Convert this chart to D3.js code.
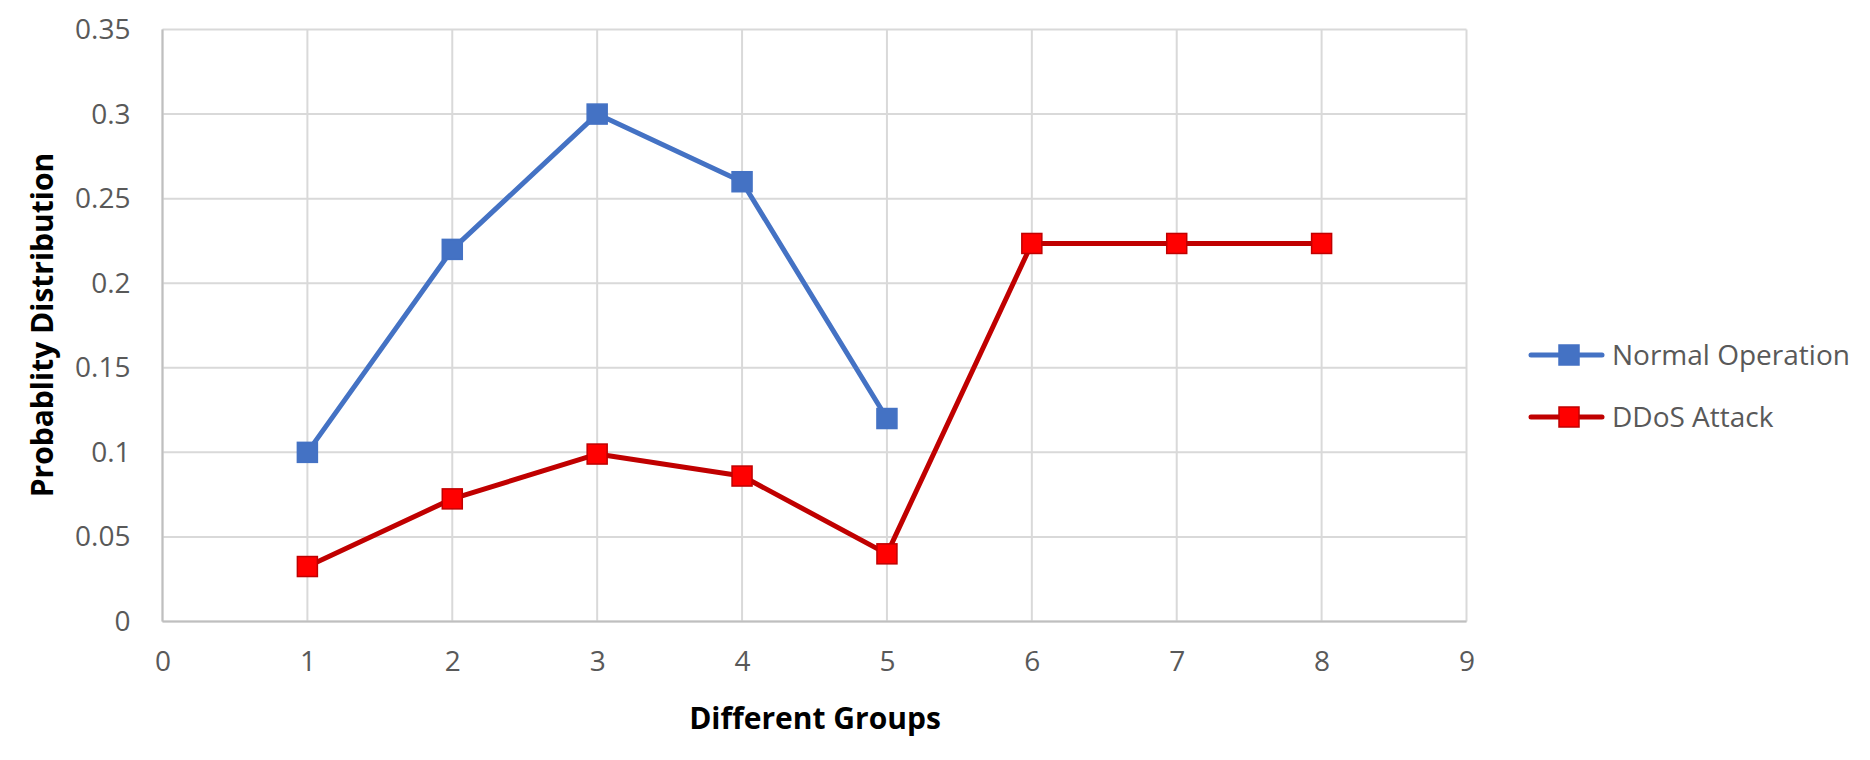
<!DOCTYPE html>
<html><head><meta charset="utf-8">
<script src="https://cdn.jsdelivr.net/npm/d3@7"></script>
<style>body{margin:0;background:#fff;}svg{display:block;}</style>
</head><body>
<script>
const groups = [1, 2, 3, 4, 5, 6, 7, 8];
const normalOperation = [0.10, 0.22, 0.30, 0.26, 0.12];
const ddosAttack = [0.0325, 0.0725, 0.099, 0.086, 0.040, 0.2235, 0.2235, 0.2235];
const xTicks = [0, 1, 2, 3, 4, 5, 6, 7, 8, 9];
const yTicks = [0, 0.05, 0.1, 0.15, 0.2, 0.25, 0.3, 0.35];
const seriesNames = ["Normal Operation", "DDoS Attack"];

const W = 1870, H = 760;
const FONT = "'Open Sans', sans-serif";
const svg = d3.select("body").append("svg").attr("width", W).attr("height", H);
svg.append("rect").attr("width", W).attr("height", H).attr("fill", "#fff");

const x = d3.scaleLinear().domain([0, 9]).range([162.5, 1466.5]);
const y = d3.scaleLinear().domain([0, 0.35]).range([621.5, 29.5]);

// grid
svg.append("g").selectAll("line").data(yTicks).join("line")
  .attr("x1", x(0)).attr("x2", x(9)).attr("y1", d => y(d)).attr("y2", d => y(d))
  .attr("stroke", "#d9d9d9").attr("stroke-width", 2);
svg.append("g").selectAll("line").data(xTicks).join("line")
  .attr("x1", d => x(d)).attr("x2", d => x(d)).attr("y1", y(0)).attr("y2", y(0.35))
  .attr("stroke", "#d9d9d9").attr("stroke-width", 2);
// axis lines
svg.append("line").attr("x1", x(0)).attr("x2", x(9)).attr("y1", y(0)).attr("y2", y(0))
  .attr("stroke", "#bfbfbf").attr("stroke-width", 2);
svg.append("line").attr("x1", x(0)).attr("x2", x(0)).attr("y1", y(0)).attr("y2", y(0.35))
  .attr("stroke", "#bfbfbf").attr("stroke-width", 2);

// axes labels via d3 axes
const xAxis = svg.append("g").attr("transform", `translate(0,${y(0)})`)
  .call(d3.axisBottom(x).tickValues(xTicks).tickSize(0).tickPadding(30).tickFormat(d3.format("d")));
xAxis.select(".domain").remove();
xAxis.selectAll("text").attr("font-family", FONT).attr("font-size", 28).attr("fill", "#595959");

const yAxis = svg.append("g").attr("transform", `translate(${x(0)},0)`)
  .call(d3.axisLeft(y).tickValues(yTicks).tickSize(0).tickPadding(32).tickFormat(d => d === 0 ? "0" : String(+d.toFixed(2))));
yAxis.select(".domain").remove();
yAxis.selectAll("text").attr("font-family", FONT).attr("font-size", 28).attr("fill", "#595959");

// axis titles
svg.append("text").attr("x", 815).attr("y", 729).attr("text-anchor", "middle")
  .attr("font-family", FONT).attr("font-weight", "bold").attr("font-size", 30).attr("fill", "#000")
  .text("Different Groups");
svg.append("text").attr("transform", "translate(53,325) rotate(-90)").attr("text-anchor", "middle")
  .attr("font-family", FONT).attr("font-weight", "bold").attr("font-size", 30).attr("fill", "#000")
  .text("Probablity Distribution");

const line = d3.line().x((d, i) => x(groups[i])).y(d => y(d));
const series = [
  {name: seriesNames[0], values: normalOperation, line: "#4472c4", fill: "#4472c4", stroke: "#4472c4"},
  {name: seriesNames[1], values: ddosAttack, line: "#c00000", fill: "#ff0000", stroke: "#c00000"}
];
const MS = 20;
series.forEach(s => {
  svg.append("path").datum(s.values).attr("d", line).attr("fill", "none")
    .attr("stroke", s.line).attr("stroke-width", 5).attr("stroke-linejoin", "round");
  svg.append("g").selectAll("rect").data(s.values).join("rect")
    .attr("x", (d, i) => x(groups[i]) - MS / 2).attr("y", d => y(d) - MS / 2)
    .attr("width", MS).attr("height", MS)
    .attr("fill", s.fill).attr("stroke", s.stroke).attr("stroke-width", 1.5);
});

// legend
const legY = [355, 417];
series.forEach((s, i) => {
  const g = svg.append("g");
  g.append("line").attr("x1", 1531).attr("x2", 1602).attr("y1", legY[i]).attr("y2", legY[i])
    .attr("stroke", s.line).attr("stroke-width", 5).attr("stroke-linecap", "round");
  g.append("rect").attr("x", 1569 - MS / 2).attr("y", legY[i] - MS / 2).attr("width", MS).attr("height", MS)
    .attr("fill", s.fill).attr("stroke", s.stroke).attr("stroke-width", 1.5);
  g.append("text").attr("x", 1612).attr("y", legY[i]).attr("dy", "0.35em")
    .attr("font-family", FONT).attr("font-size", 28).attr("fill", "#595959").text(s.name);
});
</script>
</body></html>
